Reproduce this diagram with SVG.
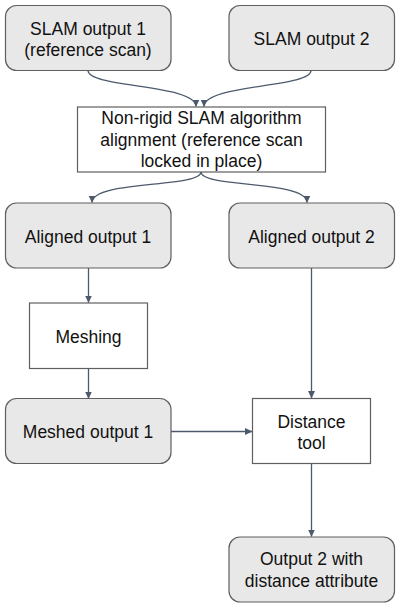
<svg xmlns="http://www.w3.org/2000/svg" width="408" height="613" viewBox="0 0 408 613">
<style>
.r{fill:#e8e8e8;stroke:#5f5f5f;stroke-width:1.2}
.b{fill:#ffffff;stroke:#5f5f5f;stroke-width:1.2}
.t{font-family:"Liberation Sans",Arial,sans-serif;font-size:17.5px;fill:#111;text-anchor:middle}
.c{fill:none;stroke:#4d5a6c;stroke-width:1.3}
</style>
<defs>
<marker id="ah" markerWidth="8" markerHeight="8" refX="7" refY="4" orient="auto" markerUnits="userSpaceOnUse">
<path d="M0,0.5 L7.5,4 L0,7.5 Z" fill="#4d5a6c"/>
</marker>
</defs>
<rect width="408" height="613" fill="#ffffff"/>
<g id="connectors">
<path class="c" d="M88,70.5 C88,88 196,84 196,106.5" marker-end="url(#ah)"/>
<path class="c" d="M311,70.5 C311,88 204,84 204,106.5" marker-end="url(#ah)"/>
<path class="c" d="M201,172 C201,188 92,180 92,202.5" marker-end="url(#ah)"/>
<path class="c" d="M201,172 C201,188 307,180 307,202.5" marker-end="url(#ah)"/>
<path class="c" d="M88.5,268 L88.5,302.5" marker-end="url(#ah)"/>
<path class="c" d="M88.5,368.5 L88.5,398.5" marker-end="url(#ah)"/>
<path class="c" d="M311.5,268 L311.5,398" marker-end="url(#ah)"/>
<path class="c" d="M171,431.5 L252,431.5" marker-end="url(#ah)"/>
<path class="c" d="M311.5,463.5 L311.5,536.5" marker-end="url(#ah)"/>
</g>
<g id="slam1"><rect class="r" x="5.5" y="5.5" width="165.5" height="65" rx="11"/><text class="t" x="88" y="34.5">SLAM output 1</text><text class="t" x="88" y="55.5">(reference scan)</text></g>
<g id="slam2"><rect class="r" x="229" y="5.5" width="165.5" height="65" rx="11"/><text class="t" x="311.5" y="45">SLAM output 2</text></g>
<g id="nonrigid"><rect class="b" x="77.5" y="107" width="248" height="65"/><text class="t" x="201.5" y="124">Non-rigid SLAM algorithm</text><text class="t" x="201.5" y="146">alignment (reference scan</text><text class="t" x="201.5" y="167">locked in place)</text></g>
<g id="aligned1"><rect class="r" x="5.5" y="203" width="165.5" height="65" rx="11"/><text class="t" x="88" y="242.5">Aligned output 1</text></g>
<g id="aligned2"><rect class="r" x="229" y="203" width="165.5" height="65" rx="11"/><text class="t" x="311.5" y="242.5">Aligned output 2</text></g>
<g id="meshing"><rect class="b" x="29.5" y="303" width="118" height="65.5"/><text class="t" x="88.5" y="343">Meshing</text></g>
<g id="meshed1"><rect class="r" x="5.5" y="398.5" width="165.5" height="65" rx="11"/><text class="t" x="88" y="438">Meshed output 1</text></g>
<g id="distance"><rect class="b" x="252.5" y="398.5" width="118" height="65"/><text class="t" x="311.5" y="427.5">Distance</text><text class="t" x="311.5" y="448.5">tool</text></g>
<g id="output2"><rect class="r" x="229" y="537" width="165.5" height="65" rx="11"/><text class="t" x="311.5" y="565">Output 2 with</text><text class="t" x="311.5" y="586.5">distance attribute</text></g>
</svg>
